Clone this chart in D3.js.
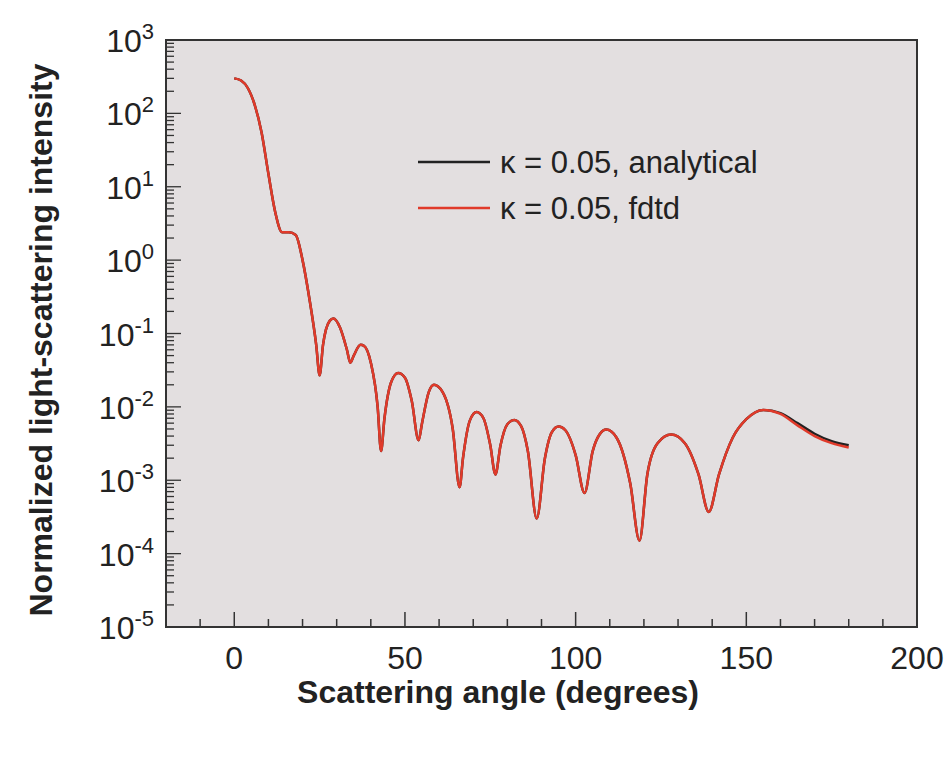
<!DOCTYPE html><html><head><meta charset="utf-8"><script src="https://cdn.jsdelivr.net/npm/d3@7"></script>
<style>body{margin:0;background:#fff}text{font-family:"Liberation Sans",Arial,sans-serif;fill:#222}</style></head><body><svg id="c" width="950" height="766"></svg><script>
const angles=[0,2,4,6,8,10,12,14,16,18,20,22,24,25,26,28,29,31,33,34,35,37,38,40,42,43,44,46,48,50,52,54,55,57,58.5,61,64,66,67,69,71,73,75,76.5,78,80,82,84,86,88.6,91,93,95,97,100,102.6,105,107,109,112,116,118.7,121,124,128,132,136,139,142,146,150,155,160,165,170,175,180];
const analytical=[300,280,220,130,55,15,4.5,2.4,2.4,2.2,1.0,0.3,0.07,0.027,0.07,0.15,0.16,0.12,0.06,0.04,0.05,0.07,0.068,0.04,0.01,0.0025,0.007,0.022,0.029,0.025,0.012,0.0035,0.006,0.016,0.02,0.016,0.005,0.0008,0.002,0.0065,0.0085,0.007,0.003,0.0012,0.003,0.0058,0.0066,0.0055,0.0025,0.0003,0.002,0.0045,0.0054,0.0048,0.0022,0.00067,0.0025,0.0042,0.0049,0.0038,0.0009,0.00015,0.0012,0.0032,0.0042,0.0032,0.0012,0.00037,0.0012,0.0038,0.0068,0.0091,0.0082,0.006,0.0043,0.0034,0.003];
const fdtd=analytical.slice(0,72).concat([0.0080,0.0056,0.0040,0.0032,0.0028]);
const xTicks=[0,50,100,150,200];
const yExps=[3,2,1,0,-1,-2,-3,-4,-5];
const legendLabels=["κ = 0.05, analytical","κ = 0.05, fdtd"];
const svg=d3.select("#c");
const L=166,R=917,T=40,B=627;
const x=d3.scaleLinear().domain([-20,200]).range([L,R]);
const y=d3.scaleLog().domain([1e-5,1e3]).range([B,T]);
svg.append("rect").attr("x",L).attr("y",T).attr("width",R-L).attr("height",B-T).attr("fill","#e3dfe0");
const g=svg.append("g");
d3.range(-10,200,10).forEach(v=>{const maj=v%50===0;g.append("line").attr("x1",x(v)).attr("x2",x(v)).attr("y1",B).attr("y2",B-(maj?15:8)).attr("stroke","#333").attr("stroke-width",1.5);});
xTicks.forEach(v=>g.append("text").attr("x",x(v)).attr("y",B+42).attr("text-anchor","middle").attr("font-size",32).text(v));
for(let e=-5;e<3;e++){for(let k=1;k<10;k++){const v=k*Math.pow(10,e);g.append("line").attr("x1",L).attr("x2",L+(k===1?15:8)).attr("y1",y(v)).attr("y2",y(v)).attr("stroke","#333").attr("stroke-width",1.3);}}
yExps.forEach(e=>{const t=g.append("text").attr("x",L-12).attr("y",y(Math.pow(10,e))+12).attr("text-anchor","end").attr("font-size",32);t.append("tspan").text("10");t.append("tspan").attr("dy",-13).attr("font-size",22).text(e);});
svg.append("rect").attr("x",L).attr("y",T).attr("width",R-L).attr("height",B-T).attr("fill","none").attr("stroke","#333").attr("stroke-width",2);
const line=d3.line().x((d,i)=>x(angles[i])).y(d=>y(d)).curve(d3.curveMonotoneX);
svg.append("path").attr("d",line(analytical)).attr("fill","none").attr("stroke","#222").attr("stroke-width",2.5);
svg.append("path").attr("d",line(fdtd)).attr("fill","none").attr("stroke","#e03a2a").attr("stroke-width",2.5);
const cols=["#222","#e03a2a"];
legendLabels.forEach((s,i)=>{const yy=162+i*46;svg.append("line").attr("x1",418).attr("x2",490).attr("y1",yy).attr("y2",yy).attr("stroke",cols[i]).attr("stroke-width",2.5);svg.append("text").attr("x",500).attr("y",yy+11).attr("font-size",31).text(s);});
svg.append("text").attr("x",498).attr("y",703).attr("text-anchor","middle").attr("font-size",32).attr("font-weight","bold").text("Scattering angle (degrees)");
svg.append("text").attr("transform","translate(52,340) rotate(-90)").attr("text-anchor","middle").attr("font-size",32).attr("font-weight","bold").text("Normalized light-scattering intensity");
</script></body></html>
